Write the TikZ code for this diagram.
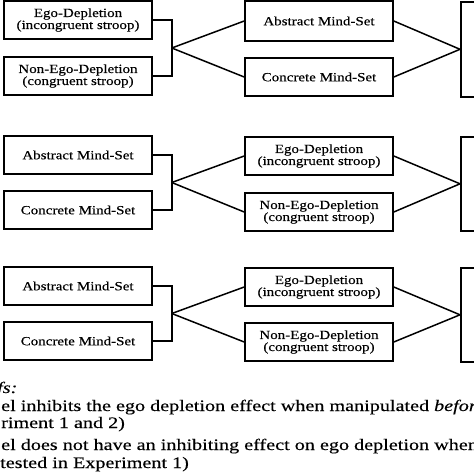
\documentclass[tikz,border=0pt]{standalone}
\usepackage{fontspec}
\setmainfont{Liberation Serif}[FakeStretch=1.2,FakeBold=0.3]
\newfontfamily\notefont{Liberation Serif}[FakeStretch=1.26,FakeBold=0.3]
\begin{document}
\begin{tikzpicture}[x=1pt,y=-1pt,
  box/.style={draw, line width=1.6pt, minimum width=148pt, minimum height=38pt,
    inner sep=0pt, align=center, font=\fontsize{12.5}{12}\selectfont},
  bigbox/.style={draw, line width=1.6pt, minimum width=140pt, minimum height=94pt,
    inner sep=0pt, anchor=north west},
  conn/.style={line width=1.5pt},
  note/.style={anchor=base west, inner sep=0pt, font=\notefont\fontsize{16}{18}\selectfont}]
\clip (0,0) rectangle (474,474);
% Row 1
\node[box] (A1) at (78,20) {Ego-Depletion\\(incongruent stroop)};
\node[box] (B1) at (78,76) {Non-Ego-Depletion\\(congruent stroop)};
\node[box, minimum height=40pt] (C1) at (319,21) {Abstract Mind-Set};
\node[box] (D1) at (319,77) {Concrete Mind-Set};
\node[bigbox, minimum height=95pt] (E1) at (460,1) {};
% Row 2
\node[box] (A2) at (78,155) {Abstract Mind-Set};
\node[box] (B2) at (78,210) {Concrete Mind-Set};
\node[box] (C2) at (319,156) {Ego-Depletion\\(incongruent stroop)};
\node[box] (D2) at (319,212) {Non-Ego-Depletion\\(congruent stroop)};
\node[bigbox] (E2) at (460,136) {};
% Row 3
\node[box] (A3) at (78,286) {Abstract Mind-Set};
\node[box] (B3) at (78,341) {Concrete Mind-Set};
\node[box] (C3) at (319,287) {Ego-Depletion\\(incongruent stroop)};
\node[box] (D3) at (319,342) {Non-Ego-Depletion\\(congruent stroop)};
\node[bigbox] (E3) at (460,267) {};
% connectors
\foreach \r in {1,2,3}{
  \path (A\r.east) -- (B\r.east) coordinate[pos=0.5] (m\r);
  \coordinate (J\r) at ([xshift=19pt]m\r);
  \draw[conn] (A\r.east) -| (J\r) |- (B\r.east);
  \draw[conn] (J\r) -- (C\r.west);
  \draw[conn] (J\r) -- (D\r.west);
  \draw[conn] (C\r.east) -- (E\r.west);
  \draw[conn] (D\r.east) -- (E\r.west);
}
% notes
\node[note] (t1) at (-3,393) {\textit{fs:}};
\node[note] (t2) at (1,411) {el inhibits the ego depletion effect when manipulated \textit{before}};
\node[note] (t3) at (1,428) {riment 1 and 2)};
\node[note] (t4) at (1,450) {el does not have an inhibiting effect on ego depletion when};
\node[note] (t5) at (0,468) {tested in Experiment 1)};
\end{tikzpicture}
\end{document}
